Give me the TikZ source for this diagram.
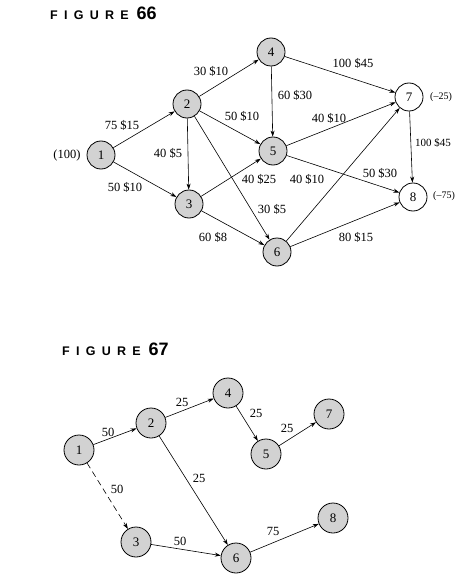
\documentclass[tikz,border=0pt]{standalone}
\usepackage{fontspec}
\setmainfont{Liberation Serif}
\newfontfamily\titlefont[LetterSpace=50]{Liberation Sans}
\newfontfamily\numfont{Liberation Sans}
\usetikzlibrary{arrows.meta}
\begin{document}
\begin{tikzpicture}[x=1pt,y=-1pt,
  nd/.style={circle,draw,line width=0.8pt,minimum size=28pt,inner sep=0pt,font=\fontsize{13}{14}\selectfont},
  sh/.style={nd,fill=gray!35},
  wh/.style={nd,fill=white},
  nd67/.style={circle,draw,line width=0.8pt,fill=gray!35,minimum size=30pt,inner sep=0pt,font=\fontsize{13}{14}\selectfont},
  lbl/.style={font=\fontsize{12.5}{14}\selectfont,inner sep=1pt},
  slbl/.style={font=\fontsize{10}{12}\selectfont,inner sep=1pt},
  arr/.style={-{Stealth[length=6pt,width=4pt]},line width=0.6pt},
  ttl/.style={anchor=west,inner sep=0pt}]
\useasboundingbox (0,0) rectangle (461,583);
% ---------- Figure 66 ----------
\node[ttl] (t66) at (50,13) {\titlefont\bfseries\fontsize{12.5}{14}\selectfont FIGURE\hspace{8pt}\numfont\fontsize{18}{18}\selectfont 66};
\node[sh] (a1) at (101,155) {1};
\node[sh] (a2) at (187,104) {2};
\node[sh] (a3) at (189,204) {3};
\node[sh] (a4) at (271,52) {4};
\node[sh] (a5) at (273,151) {5};
\node[sh] (a6) at (277,252) {6};
\node[wh] (a7) at (409,97) {7};
\node[wh] (a8) at (413,197) {8};
\draw[arr] (a1) -- (a2);
\draw[arr] (a1) -- (a3);
\draw[arr] (a2) -- (a4);
\draw[arr] (a2) -- (a5);
\draw[arr] (a2) -- (a3);
\draw[arr] (a2) -- (a6);
\draw[arr] (a3) -- (a5);
\draw[arr] (a3) -- (a6);
\draw[arr] (a4) -- (a5);
\draw[arr] (a4) -- (a7);
\draw[arr] (a5) -- (a7);
\draw[arr] (a5) -- (a8);
\draw[arr] (a6) -- (a7);
\draw[arr] (a6) -- (a8);
\draw[arr] (a7) -- (a8);
\node[lbl] (s1) at (67,155) {(100)};
\node[slbl] (s7) at (441,97) {(–25)};
\node[slbl] (s8) at (444,196) {(–75)};
\node[lbl] (l24) at (211,71) {30 \$10};
\node[lbl] (l47) at (353,63) {100 \$45};
\node[lbl] (l45) at (295,95) {60 \$30};
\node[lbl] (l12) at (122,125) {75 \$15};
\node[lbl] (l25) at (242,116) {50 \$10};
\node[lbl] (l57) at (329,118) {40 \$10};
\node[slbl,font=\fontsize{11}{12}\selectfont] (l78) at (433,143) {100 \$45};
\node[lbl] (l23) at (168,153) {40 \$5};
\node[lbl] (l13) at (125,187) {50 \$10};
\node[lbl] (l35) at (259,179) {40 \$25};
\node[lbl] (l67) at (307,179) {40 \$10};
\node[lbl] (l58) at (380,173) {50 \$30};
\node[lbl] (l26) at (272,209) {30 \$5};
\node[lbl] (l36) at (213,237) {60 \$8};
\node[lbl] (l68) at (356,237) {80 \$15};
% ---------- Figure 67 ----------
\node[ttl] (t67) at (62,349) {\titlefont\bfseries\fontsize{12.5}{14}\selectfont FIGURE\hspace{8pt}\numfont\fontsize{18}{18}\selectfont 67};
\node[nd67] (b1) at (79,450) {1};
\node[nd67] (b2) at (151,423) {2};
\node[nd67] (b3) at (136,542) {3};
\node[nd67] (b4) at (228,393) {4};
\node[nd67] (b5) at (266,454) {5};
\node[nd67] (b6) at (236,558) {6};
\node[nd67] (b7) at (329,414) {7};
\node[nd67] (b8) at (333,518) {8};
\draw[arr] (b1) -- (b2);
\draw[arr,dashed,dash pattern=on 6pt off 4pt] (b1) -- (b3);
\draw[arr] (b2) -- (b4);
\draw[arr] (b2) -- (b6);
\draw[arr] (b4) -- (b5);
\draw[arr] (b5) -- (b7);
\draw[arr] (b3) -- (b6);
\draw[arr] (b6) -- (b8);
\node[lbl] (m12) at (108,432) {50};
\node[lbl] (m24) at (182,402) {25};
\node[lbl] (m45) at (256,413) {25};
\node[lbl] (m57) at (287,428) {25};
\node[lbl] (m26) at (199,478) {25};
\node[lbl] (m13) at (117,489) {50};
\node[lbl] (m36) at (180,541) {50};
\node[lbl] (m68) at (273,531) {75};
\end{tikzpicture}
\end{document}
